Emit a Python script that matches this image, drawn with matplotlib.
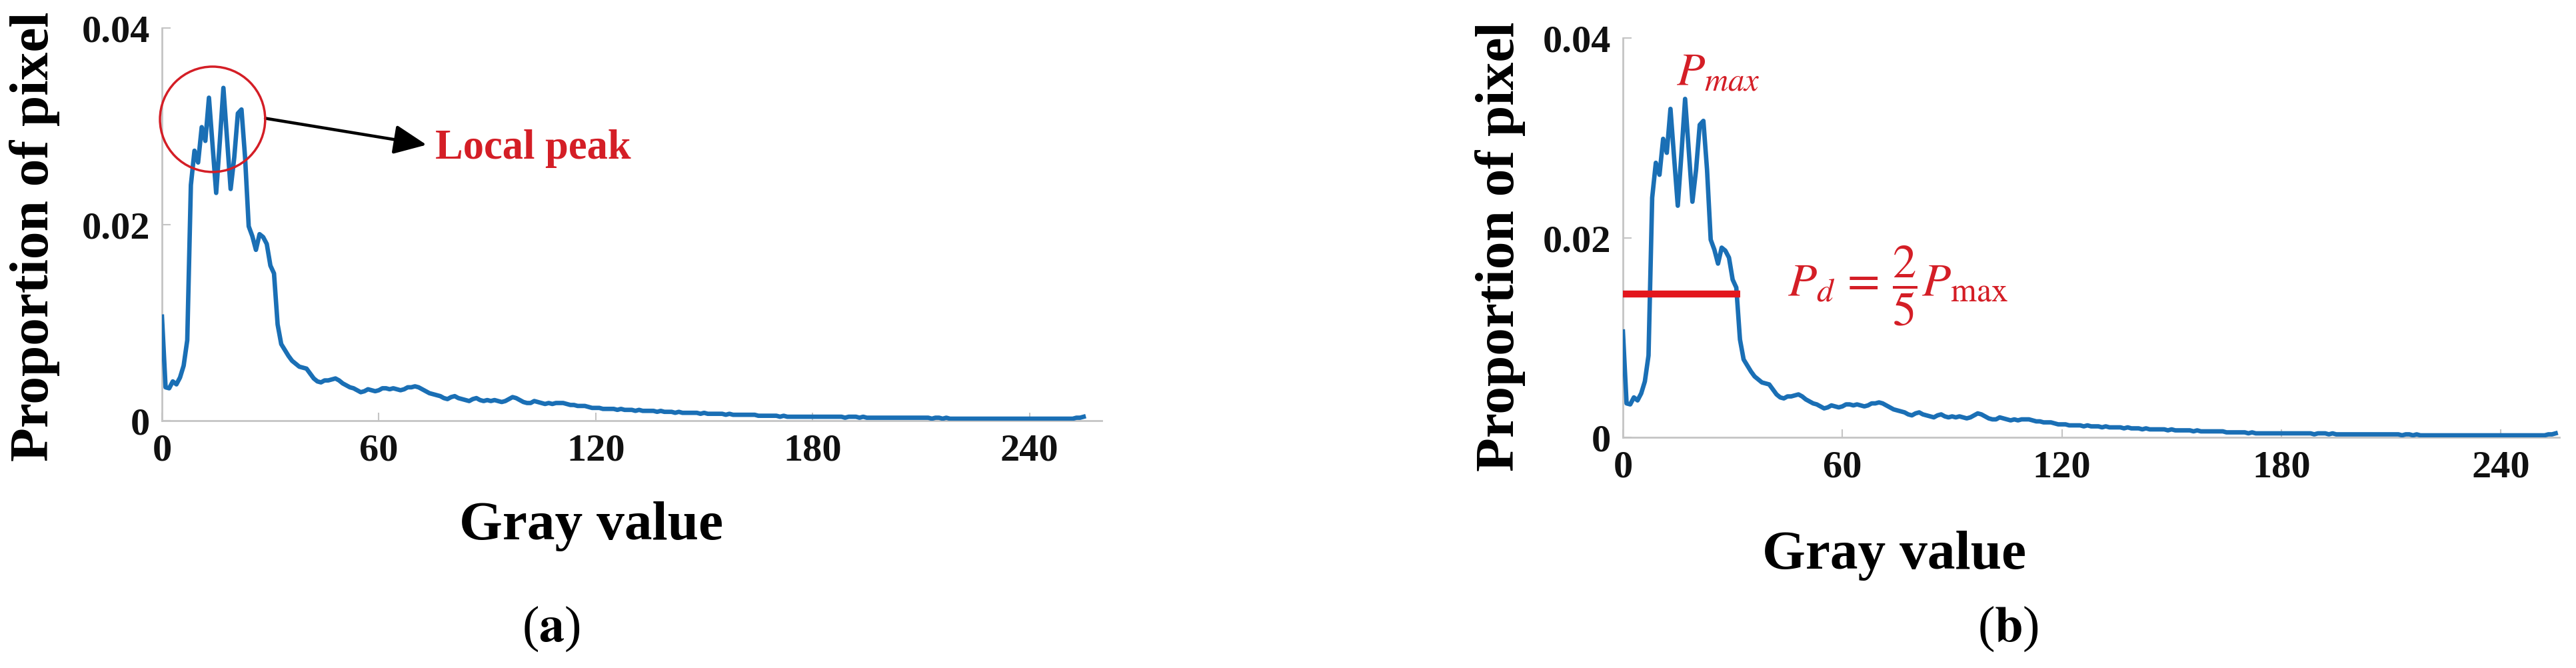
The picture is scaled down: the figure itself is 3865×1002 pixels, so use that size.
import numpy as np
import matplotlib
matplotlib.use("Agg")
import matplotlib.pyplot as plt
from matplotlib.patches import Ellipse

plt.rcParams['font.family'] = ['Liberation Serif', 'DejaVu Serif']
plt.rcParams['mathtext.fontset'] = 'stix'

# gray-level histogram (proportion of pixels), one value per gray level
gray_levels = np.arange(256)
proportion = [
    0.0106, 0.0034, 0.0033, 0.0040, 0.0037, 0.0044, 0.0056, 0.0082, 0.0240, 0.0275, 0.0263, 0.0299, 0.0285, 0.0329, 0.0280, 0.0232,
    0.0284, 0.0339, 0.0288, 0.0236, 0.0268, 0.0313, 0.0317, 0.0268, 0.0198, 0.0188, 0.0174, 0.0190, 0.0187, 0.0180, 0.0158, 0.0150,
    0.0098, 0.0078, 0.0072, 0.0066, 0.0061, 0.0058, 0.0055, 0.0054, 0.0053, 0.0048, 0.0043, 0.0040, 0.0039, 0.0041, 0.0041, 0.0042,
    0.0043, 0.0041, 0.0038, 0.0036, 0.0034, 0.0033, 0.0031, 0.0029, 0.0030, 0.0032, 0.0031, 0.0030, 0.0031, 0.0033, 0.0033, 0.0032,
    0.0033, 0.0032, 0.0031, 0.0032, 0.0034, 0.0034, 0.0035, 0.0034, 0.0032, 0.0030, 0.0028, 0.0027, 0.0026, 0.0025, 0.0023, 0.0022,
    0.0024, 0.0025, 0.0023, 0.0022, 0.0021, 0.0020, 0.0022, 0.0023, 0.0021, 0.0020, 0.0021, 0.0020, 0.0021, 0.0020, 0.0019, 0.0020,
    0.0022, 0.0024, 0.0023, 0.0021, 0.0019, 0.0018, 0.0018, 0.0020, 0.0019, 0.0018, 0.0017, 0.0018, 0.0017, 0.0018, 0.0018, 0.0018,
    0.0017, 0.0016, 0.0016, 0.0015, 0.0015, 0.0015, 0.0014, 0.0013, 0.0013, 0.0013, 0.0012, 0.0012, 0.0012, 0.0012, 0.0011, 0.0012,
    0.0011, 0.0011, 0.0011, 0.0010, 0.0011, 0.0010, 0.0010, 0.0010, 0.0010, 0.0009, 0.0010, 0.0009, 0.0009, 0.0009, 0.0008, 0.0009,
    0.0008, 0.0008, 0.0008, 0.0008, 0.0008, 0.0007, 0.0008, 0.0007, 0.0007, 0.0007, 0.0007, 0.0007, 0.0006, 0.0007, 0.0006, 0.0006,
    0.0006, 0.0006, 0.0006, 0.0006, 0.0006, 0.0005, 0.0005, 0.0005, 0.0005, 0.0005, 0.0005, 0.0004, 0.0005, 0.0004, 0.0004, 0.0004,
    0.0004, 0.0004, 0.0004, 0.0004, 0.0004, 0.0004, 0.0004, 0.0004, 0.0004, 0.0004, 0.0004, 0.0004, 0.0004, 0.0003, 0.0004, 0.0004,
    0.0004, 0.0003, 0.0004, 0.0003, 0.0003, 0.0003, 0.0003, 0.0003, 0.0003, 0.0003, 0.0003, 0.0003, 0.0003, 0.0003, 0.0003, 0.0003,
    0.0003, 0.0003, 0.0003, 0.0003, 0.0003, 0.0002, 0.0003, 0.0003, 0.0002, 0.0003, 0.0002, 0.0002, 0.0002, 0.0002, 0.0002, 0.0002,
    0.0002, 0.0002, 0.0002, 0.0002, 0.0002, 0.0002, 0.0002, 0.0002, 0.0002, 0.0002, 0.0002, 0.0002, 0.0002, 0.0002, 0.0002, 0.0002,
    0.0002, 0.0002, 0.0002, 0.0002, 0.0002, 0.0002, 0.0002, 0.0002, 0.0002, 0.0002, 0.0002, 0.0002, 0.0002, 0.0003, 0.0003, 0.0004,
]

x_ticks = [0, 60, 120, 180, 240]
y_ticks = [0, 0.02, 0.04]
y_tick_labels = ['0', '0.02', '0.04']

p_max = 0.0339
p_d = 0.01436          # level of the red bar in (b)
p_d_range = (0, 32)    # gray values covered by the red bar

line_blue = '#1a6fb5'
mark_red = '#e3161d'
text_red = '#d41e26'
axis_grey = '#c4c4c4'

W, H = 3866, 1003
fig = plt.figure(figsize=(W / 100, H / 100), dpi=100)
ax_a = fig.add_axes([243 / W, 1 - 632 / H, 1410 / W, 589 / H])
ax_b = fig.add_axes([2435 / W, 1 - 657 / H, 1405 / W, 599 / H])


def style_axes(ax, xmax, xlabel_pos, ylabel_pos):
    ax.plot(gray_levels, proportion, color=line_blue, lw=4.8, zorder=3)
    ax.set_xlim(0, xmax)
    ax.set_ylim(0, 0.04)
    ax.set_xticks(x_ticks)
    ax.set_yticks(y_ticks)
    ax.set_yticklabels(y_tick_labels)
    for side in ['top', 'right']:
        ax.spines[side].set_visible(False)
    for side in ['left', 'bottom']:
        ax.spines[side].set_color(axis_grey)
        ax.spines[side].set_linewidth(2)
    ax.tick_params(direction='in', length=9, width=1.5, color=axis_grey,
                   labelsize=42, pad=13, labelcolor='#111111')
    for lbl in ax.get_xticklabels() + ax.get_yticklabels():
        lbl.set_fontweight('bold')
    ax.set_xlabel('Gray value', fontsize=60, fontweight='bold', va='center')
    ax.xaxis.set_label_coords(*xlabel_pos)
    ax.set_ylabel('Proportion of pixel', fontsize=60, fontweight='bold', va='center')
    ax.yaxis.set_label_coords(*ylabel_pos)


style_axes(ax_a, 260, (0.457, -0.268), (-0.1355, 0.47))
style_axes(ax_b, 256, (0.290, -0.294), (-0.131, 0.48))

# (a): circle round the local peaks and an arrow to the note
ax_a.add_patch(Ellipse((14.0, 0.0307), width=29.1, height=0.01073, fill=False,
                       ec=text_red, lw=2.5, zorder=4, clip_on=False))
ax_a.annotate('', xy=(73.2, 0.0281), xytext=(28.6, 0.0308),
              arrowprops=dict(arrowstyle='-|>,head_length=1.0,head_width=0.45',
                              mutation_scale=30, lw=3.3, color='black',
                              shrinkA=0, shrinkB=0))
ax_a.text(75.6, 0.0278, 'Local peak', color=text_red, fontsize=45,
          fontweight='bold', ha='left', va='center')

# (b): threshold bar and formulas
ax_b.plot(p_d_range, [p_d, p_d], color=mark_red, lw=7.5, solid_capstyle='butt', zorder=4)
ax_b.text(14.5, 0.0365, r'$P_{max}$', color=text_red, fontsize=50,
          ha='left', va='center')
ax_b.text(45.0, 0.0152, r'$P_d\,=\,\dfrac{2}{5}P_{\max}$', color=text_red,
          fontsize=51, ha='left', va='center')

fig.text(827 / W, 1 - 943 / H, r'($\mathbf{a}$)', fontsize=55, ha='center', va='center')
fig.text(3013 / W, 1 - 943 / H, r'($\mathbf{b}$)', fontsize=55, ha='center', va='center')

fig.savefig('out.png', dpi=100)
